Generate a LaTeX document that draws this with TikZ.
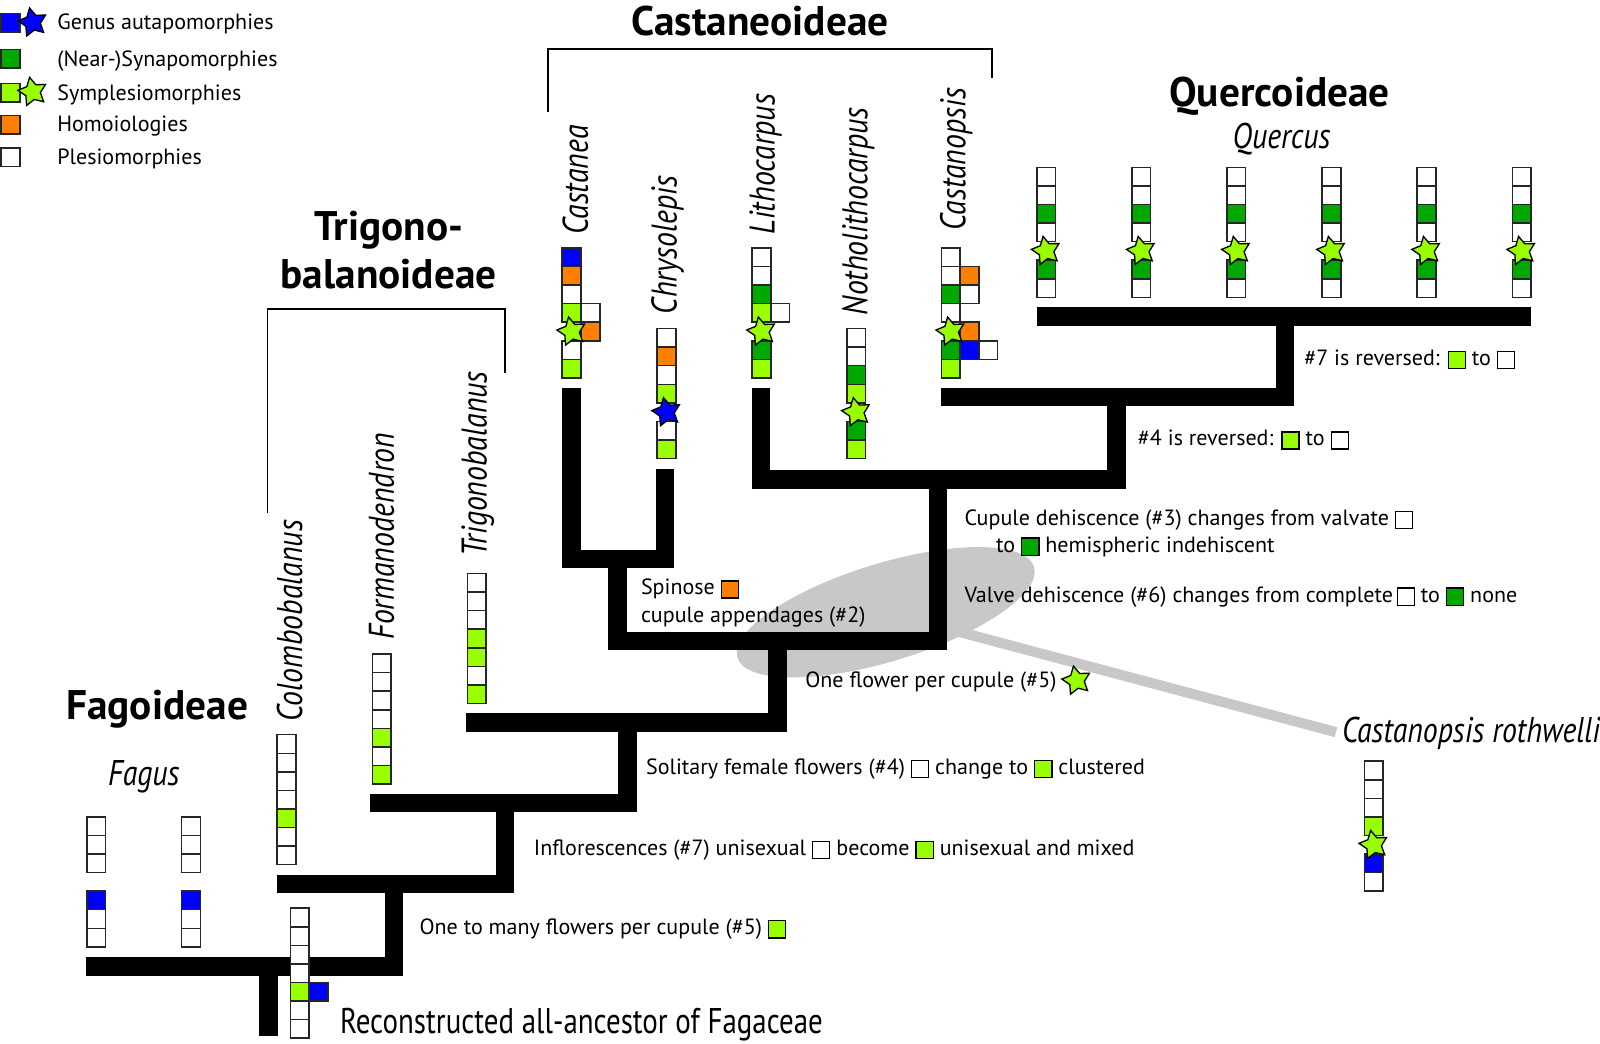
\documentclass[tikz,border=0pt]{standalone}
\usepackage{fontspec}
\setmainfont{PT Sans}
\newfontfamily\condf{PT Sans}[FakeStretch=0.81, ItalicFeatures={FakeStretch=0.835}]
\usetikzlibrary{shapes.geometric}
\definecolor{cblue}{RGB}{0,0,255}
\definecolor{cgreen}{RGB}{0,168,0}
\definecolor{clight}{RGB}{153,255,0}
\definecolor{corange}{RGB}{255,128,0}
\definecolor{cgray}{RGB}{200,200,200}
\newcommand\sq[1]{\raisebox{-2.5pt}{\setlength\fboxsep{0pt}\setlength\fboxrule{1.3pt}\fcolorbox{black}{#1}{\rule{0pt}{15.5pt}\rule{15.5pt}{0pt}}}}
\newcommand\cellcol[3]{\foreach \clr [count=\ii from 0] in {#3}{\path[\clr] (#1,{#2+\ii*18.2}) rectangle ++(18.4,18.2);}}
\tikzset{
  branch/.style={line width=18pt, line cap=butt, line join=miter, draw=black},
  cellst/.style={draw=black!85, line width=1.5pt},
  cW/.style={cellst, fill=white},
  cG/.style={cellst, fill=cgreen},
  cL/.style={cellst, fill=clight},
  cB/.style={cellst, fill=cblue},
  cO/.style={cellst, fill=corange},
  cN/.style={draw=none, fill=none},
  bracket/.style={draw=black, line width=1.6pt},
  starst/.style={star, star points=5, star point ratio=1.9, minimum size=29pt, inner sep=0pt, draw=black, line width=1.3pt, rotate=12},
  ann/.style={anchor=base west, inner sep=0pt, font=\fontsize{21.6}{25}\selectfont},
  leg/.style={anchor=base west, inner sep=0pt, font=\fontsize{21.6}{25}\selectfont},
  head/.style={anchor=base, inner sep=0pt, font=\bfseries\fontsize{40.5}{46}\selectfont},
  taxon/.style={inner sep=0pt, font=\condf\itshape\fontsize{35}{40}\selectfont},
  rtaxon/.style={taxon, rotate=90, anchor=base west},
}
\begin{document}
\begin{tikzpicture}[x=1pt,y=-1pt]
\useasboundingbox (0,0) rectangle (1568,1023);
% highlight ellipse and pointer
\node[ellipse, fill=cgray, minimum width=304pt, minimum height=96pt, inner sep=0pt, rotate=17] (ell) at (868,600) {};
\node[taxon, anchor=base west] (roth) at (1315,728) {Castanopsis rothwelli};
\draw[cgray, line width=10pt, shorten >=6pt] (ell.center) -- (roth.west);
% tree coordinates
\coordinate (root) at (263,1015);
\coordinate (fagL) at (84,947);   \coordinate (j1) at (386,947);
\coordinate (colL) at (271,866);  \coordinate (j2) at (495,866);
\coordinate (forL) at (363,787);  \coordinate (j3) at (615,787);
\coordinate (triL) at (457,708);  \coordinate (j4) at (762,708);
\coordinate (j5L) at (605,628);   \coordinate (j5R) at (919,628);
\coordinate (j6) at (605,548);
\coordinate (casT) at (560,380);  \coordinate (chrT) at (652,460);
\coordinate (litT) at (746,380);  \coordinate (j7) at (919,470);  \coordinate (j7R) at (1094,470);
\coordinate (cspL) at (922,389);  \coordinate (j8) at (1094,389); \coordinate (j8R) at (1259,389);
\coordinate (j9) at (1259,310);
\coordinate (querL) at (1016,310); \coordinate (querR) at (1500,310);
% tree
\draw[branch] (root) -- (root |- fagL);
\draw[branch] (fagL) -- (j1) -- (j1 |- colL);
\draw[branch] (colL) -- (j2) -- (j2 |- forL);
\draw[branch] (forL) -- (j3) -- (j3 |- triL);
\draw[branch] (triL) -- (j4) -- (j4 |- j5L);
\draw[branch] (j6) -- (j5L) -- (j5R) -- (j7);
\draw[branch] (casT) -- (casT |- j6) -- (chrT |- j6) -- (chrT);
\draw[branch] (litT) -- (litT |- j7) -- (j7R) -- (j8);
\draw[branch] (cspL) -- (j8R) -- (j9);
\draw[branch] (querL) -- (querR);
% brackets
\coordinate (cb1) at (537,110); \coordinate (cb2) at (972,48); \coordinate (cb3) at (972,76);
\draw[bracket] (cb1) |- (cb2) -- (cb3);
\coordinate (tb1) at (262,503); \coordinate (tb2) at (495,303); \coordinate (tb3) at (495,366);
\draw[bracket] (tb1) |- (tb2) -- (tb3);
% character columns
\cellcol{551}{243}{cB,cO,cW,cL,cN,cW,cL}
\cellcol{569.4}{297.6}{cW,cO}
\cellcol{644}{322}{cW,cO,cW,cL,cN,cW,cL}
\cellcol{737}{243}{cW,cW,cG,cL,cN,cG,cL}
\cellcol{755.4}{297.6}{cW}
\cellcol{830}{322}{cW,cW,cG,cL,cN,cG,cL}
\cellcol{922.5}{243}{cW,cW,cG,cW,cN,cG,cL}
\cellcol{940.9}{261.2}{cO,cW,cN,cO,cB}
\cellcol{959.3}{334}{cW}
\foreach \qx in {1016,1109.2,1202.4,1295.6,1388.8,1482}{\cellcol{\qx}{164}{cW,cW,cG,cW,cN,cG,cW}}
\cellcol{1337}{746}{cW,cW,cW,cL,cN,cB,cW}
\cellcol{85}{800.5}{cW,cW,cW,cN,cB,cW,cW}
\cellcol{178}{800.5}{cW,cW,cW,cN,cB,cW,cW}
\cellcol{271.5}{720}{cW,cW,cW,cW,cL,cW,cW}
\cellcol{365}{641}{cW,cW,cW,cW,cL,cW,cL}
\cellcol{458}{562}{cW,cW,cW,cL,cL,cW,cL}
\cellcol{284.5}{890}{cW,cW,cW,cW,cL,cW,cW}
\cellcol{302.9}{962.8}{cB}
% stars
\node[starst, fill=clight] (sCas) at (560.2,324.9) {};
\node[starst, fill=cblue] (sChr) at (653.2,403.9) {};
\node[starst, fill=clight] (sLit) at (746.2,324.9) {};
\node[starst, fill=clight] (sNot) at (839.2,403.9) {};
\node[starst, fill=clight] (sCsp) at (931.7,324.9) {};
\foreach \qx [count=\k] in {1016,1109.2,1202.4,1295.6,1388.8,1482}{\node[starst, fill=clight] (sQ\k) at (\qx+9.2,245.9) {};}
\node[starst, fill=clight] (sRot) at (1346.2,828) {};
% legend
\path[cB] (1,13) rectangle ++(18.4,18.2);
\node[starst, fill=cblue] (lgs1) at (32,22) {};
\path[cG] (1,48.5) rectangle ++(18.4,18.2);
\path[cL] (1,82) rectangle ++(18.4,18.2);
\node[starst, fill=clight] (lgs3) at (32,90) {};
\path[cO] (1,113) rectangle ++(18.4,18.2);
\path[cW] (1,145) rectangle ++(18.4,18.2);
\node[leg] (lg1) at (56,29) {Genus autapomorphies};
\node[leg] (lg2) at (56,65) {(Near-)Synapomorphies};
\node[leg] (lg3) at (56,98) {Symplesiomorphies};
\node[leg] (lg4) at (56,129) {Homoiologies};
\node[leg] (lg5) at (56,161) {Plesiomorphies};
% clade headers
\node[head] (hCas) at (745,35) {Castaneoideae};
\node[head] (hQue) at (1254,104) {Quercoideae};
\node[head] (hTri1) at (381,236) {Trigono-};
\node[head] (hTri2) at (381,283) {balanoideae};
\node[head] (hFag) at (154,705) {Fagoideae};
\node[taxon, anchor=base] (tQue) at (1256,146) {Quercus};
\node[taxon, anchor=base] (tFag) at (141,770) {Fagus};
% rotated taxa
\node[rtaxon] (tCas) at (576,230) {Castanea};
\node[rtaxon] (tChr) at (663,308) {Chrysolepis};
\node[rtaxon] (tLit) at (759,230) {Lithocarpus};
\node[rtaxon] (tNot) at (850,309) {Notholithocarpus};
\node[rtaxon] (tCsp) at (946,226) {Castanopsis};
\node[rtaxon] (tCol) at (296,707) {Colombobalanus};
\node[rtaxon] (tFor) at (386,627) {Formanodendron};
\node[rtaxon] (tTri) at (477,546) {Trigonobalanus};
\node[inner sep=0pt, anchor=base west, font=\condf\fontsize{35}{40}\selectfont] (anc) at (333,1013) {Reconstructed all-ancestor of Fagaceae};
% annotations
\node[ann] (spin) at (628,583) {Spinose \sq{corange}};
\node[ann] (spin2) at (628,610) {cupule appendages (\#2)};
\node[ann] (cup1) at (945,515) {Cupule dehiscence (\#3) changes from valvate \sq{white}};
\node[ann] (cup2) at (976,541) {to \sq{cgreen} hemispheric indehiscent};
\node[ann] (valve) at (945,590) {Valve dehiscence (\#6) changes from complete\,\sq{white} to \sq{cgreen} none};
\node[ann] (oneflower) at (789,674) {One flower per cupule (\#5)};
\node[starst, fill=clight] (sOne) at (1055,667) {};
\node[ann] (solit) at (633,759) {Solitary female flowers (\#4) \sq{white} change to \sq{clight} clustered};
\node[ann] (infl) at (523,838) {Inflorescences (\#7) unisexual \sq{white} become \sq{clight} unisexual and mixed};
\node[ann] (many) at (411,916) {One to many flowers per cupule (\#5) \sq{clight}};
\node[ann] (rev7) at (1278,358) {\#7 is reversed: \sq{clight} to \sq{white}};
\node[ann] (rev4) at (1115,437) {\#4 is reversed: \sq{clight} to \sq{white}};
\end{tikzpicture}
\end{document}
